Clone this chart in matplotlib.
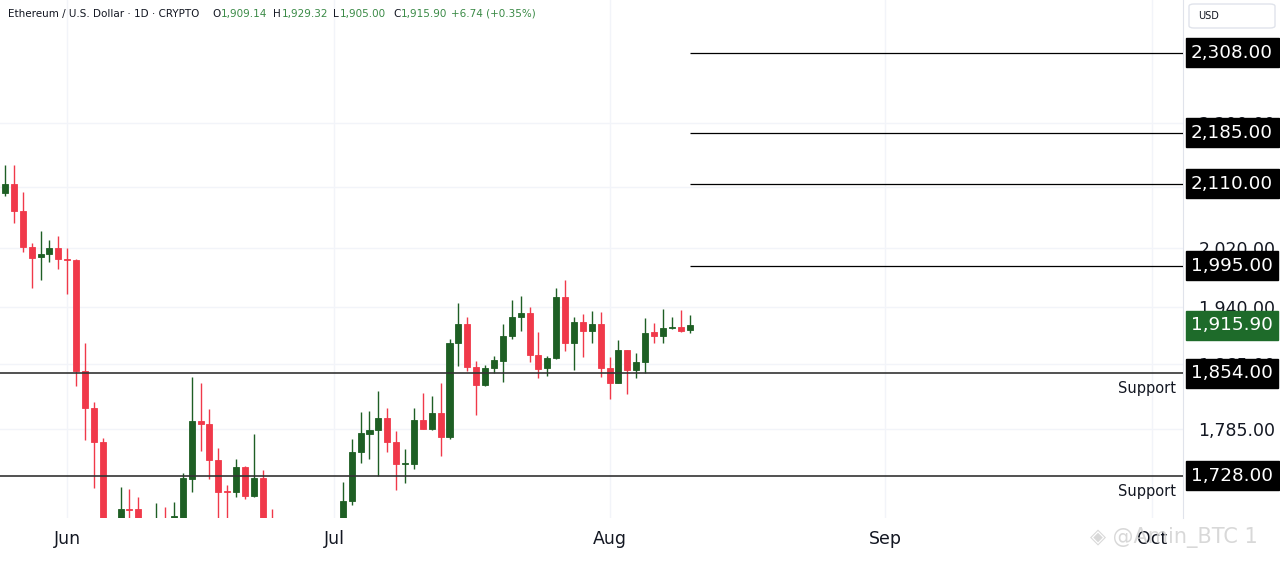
import datetime as dt
import matplotlib
matplotlib.use("Agg")
import matplotlib.pyplot as plt
import matplotlib.dates as mdates
from matplotlib.patches import FancyBboxPatch
import numpy as np

# daily candles (values below ~1679 are off-screen guesses)
fechas = ["2023-05-25", "2023-05-26", "2023-05-27", "2023-05-28", "2023-05-29", "2023-05-30",
          "2023-05-31", "2023-06-01", "2023-06-02", "2023-06-03", "2023-06-04", "2023-06-05",
          "2023-06-07", "2023-06-08", "2023-06-09", "2023-06-11", "2023-06-12", "2023-06-13",
          "2023-06-14", "2023-06-15", "2023-06-16", "2023-06-17", "2023-06-18", "2023-06-19",
          "2023-06-20", "2023-06-21", "2023-06-22", "2023-06-23", "2023-06-24",
          "2023-07-02", "2023-07-03", "2023-07-04", "2023-07-05", "2023-07-06", "2023-07-07",
          "2023-07-08", "2023-07-09", "2023-07-10", "2023-07-11", "2023-07-12", "2023-07-13",
          "2023-07-14", "2023-07-15", "2023-07-16", "2023-07-17", "2023-07-18", "2023-07-19",
          "2023-07-20", "2023-07-21", "2023-07-22", "2023-07-23", "2023-07-24", "2023-07-25",
          "2023-07-26", "2023-07-27", "2023-07-28", "2023-07-29", "2023-07-30", "2023-07-31",
          "2023-08-01", "2023-08-02", "2023-08-03", "2023-08-04", "2023-08-05", "2023-08-06",
          "2023-08-07", "2023-08-08", "2023-08-09", "2023-08-10"]
aperturas = [2097, 2110, 2071, 2021, 2007, 2011, 2020, 2004, 2003, 1856, 1810, 1768,
             1665, 1689, 1689, 1650, 1665, 1655, 1665, 1724, 1794, 1791, 1747, 1710,
             1709, 1739, 1704, 1726, 1668,
             1672, 1699, 1756, 1778, 1783, 1798, 1769, 1742, 1742, 1795, 1785, 1804,
             1775, 1892, 1917, 1862, 1839, 1860, 1870, 1902, 1927, 1932, 1877, 1860,
             1873, 1953, 1893, 1920, 1908, 1917, 1860, 1842, 1883, 1858, 1868, 1907,
             1901, 1912, 1914, 1909.14]
maximos = [2138, 2138, 2098, 2027, 2043, 2030, 2036, 2019, 2005, 1893, 1818, 1773,
           1715, 1713, 1703, 1696, 1692, 1698, 1731, 1849, 1841, 1809, 1761, 1717,
           1748, 1740, 1778, 1735, 1689,
           1721, 1772, 1805, 1806, 1831, 1810, 1782, 1760, 1810, 1829, 1825, 1842,
           1898, 1945, 1927, 1869, 1864, 1876, 1917, 1949, 1955, 1940, 1907, 1876,
           1965, 1976, 1926, 1930, 1934, 1933, 1874, 1896, 1884, 1880, 1925, 1918,
           1937, 1926, 1936, 1929.32]
minimos = [2093, 2055, 2014, 1965, 1976, 2000, 1991, 1957, 1838, 1771, 1714, 1630,
           1650, 1660, 1650, 1640, 1645, 1650, 1660, 1709, 1758, 1724, 1670, 1675,
           1703, 1701, 1703, 1655, 1640,
           1665, 1694, 1743, 1748, 1728, 1757, 1712, 1720, 1736, 1784, 1783, 1752,
           1772, 1863, 1857, 1801, 1838, 1854, 1843, 1898, 1908, 1868, 1848, 1850,
           1872, 1882, 1858, 1874, 1892, 1849, 1822, 1841, 1828, 1848, 1854, 1892,
           1892, 1911, 1907, 1905.00]
cierres = [2110, 2071, 2021, 2006, 2011, 2020, 2004, 2003, 1856, 1810, 1768, 1650,
           1689, 1688, 1665, 1665, 1655, 1681, 1725, 1794, 1791, 1747, 1709, 1709,
           1739, 1704, 1726, 1668, 1650,
           1699, 1756, 1779, 1783, 1798, 1769, 1742, 1743, 1795, 1785, 1804, 1775,
           1893, 1917, 1862, 1839, 1860, 1871, 1902, 1927, 1932, 1877, 1859, 1873,
           1953, 1893, 1920, 1908, 1917, 1860, 1842, 1883, 1858, 1868, 1906, 1901,
           1912, 1914, 1908, 1915.90]

# drawn levels
resistencias = [2308.00, 2185.00, 2110.00, 1995.00]
soportes = [1854.00, 1728.00]
ultimo = 1915.90
ticks_precio = [1785, 1865, 1940, 2020, 2200]
meses = ["2023-06-01", "2023-07-01", "2023-08-01", "2023-09-01", "2023-10-01"]

VERDE = "#1e5f24"
ROJO = "#f0394a"
TEXTO = "#131722"

def a_num(s):
    return mdates.date2num(dt.datetime.strptime(s, "%Y-%m-%d"))

x = np.array([a_num(f) for f in fechas])
o = np.array(aperturas, dtype=float)
h = np.array(maximos, dtype=float)
l = np.array(minimos, dtype=float)
c = np.array(cierres, dtype=float)
colores = np.where(c >= o, VERDE, ROJO)

fig = plt.figure(figsize=(12.8, 5.61), dpi=100)
ax = fig.add_axes([0, 43 / 561, 1183 / 1280, 518 / 561])
ax.set_yscale("log")

# grid
for t in ticks_precio + [2105]:
    ax.axhline(t, color="#f2f4f9", lw=1, zorder=0)
for m in meses:
    ax.axvline(a_num(m), color="#f2f4f9", lw=1, zorder=0)

# candles
ax.vlines(x, l, h, colors=colores, lw=1.0, zorder=2)
ax.bar(x, np.abs(c - o), bottom=np.minimum(o, c), width=0.68, color=colores,
       edgecolor=colores, linewidth=0.6, zorder=3)

x0 = a_num("2023-05-25")
ax.set_xlim(x0 - 0.56, x0 + 132.5)
ax.set_ylim(1679, 2393)

# levels
for r in resistencias:
    ax.hlines(r, x[-1], x0 + 132.5, colors="black", lw=0.9, zorder=4)
for s in soportes:
    ax.axhline(s, color="#333333", lw=1.2, zorder=4)
    ax.annotate("Support", xy=(1, s), xycoords=ax.get_yaxis_transform(),
                xytext=(-5, -6), textcoords="offset points", ha="right", va="top",
                fontsize=10.5, color=TEXTO, annotation_clip=False)

# axes
ax.xaxis.set_major_locator(mdates.MonthLocator())
ax.xaxis.set_major_formatter(mdates.DateFormatter("%b"))
ax.tick_params(axis="x", length=0, pad=9, labelsize=12.5, labelcolor=TEXTO)
ax.yaxis.tick_right()
ax.yaxis.set_minor_locator(matplotlib.ticker.NullLocator())
ax.set_yticks(ticks_precio)
ax.set_yticklabels([f"{t:,.2f}" for t in ticks_precio])
ax.tick_params(axis="y", length=0, pad=11, labelsize=12.5, labelcolor=TEXTO)
for lado in ["top", "left", "bottom"]:
    ax.spines[lado].set_visible(False)
ax.spines["right"].set_color("#e0e3eb")

# price tags on the right scale
for p in resistencias + soportes:
    ax.text(1.0068, p, f"{p:,.2f}", transform=ax.get_yaxis_transform(), ha="left",
            va="center", fontsize=13.2, color="white", zorder=10, clip_on=False,
            bbox=dict(boxstyle="square,pad=0.3", fc="black", ec="black"))
ax.text(1.0068, ultimo, f"{ultimo:,.2f}", transform=ax.get_yaxis_transform(), ha="left",
        va="center", fontsize=13.2, color="white", zorder=10, clip_on=False,
        bbox=dict(boxstyle="square,pad=0.3", fc="#1e6b2a", ec="#1e6b2a"))

# USD box
px = lambda xx, yy: (xx / 1280, 1 - yy / 561)
caja = FancyBboxPatch(px(1189, 28), 86 / 1280, 24 / 561, transform=fig.transFigure,
                      boxstyle="round,pad=0,rounding_size=0.004", fc="white",
                      ec="#e0e3eb", lw=1)
fig.patches.append(caja)
fig.text(*px(1198, 16), "USD", fontsize=7, color=TEXTO, va="center")

# header
fig.text(*px(8, 14), "Ethereum / U.S. Dollar · 1D · CRYPTO", fontsize=7.5,
         color=TEXTO, va="center")
partes = [(212, "O", TEXTO), (221, "1,909.14", "#3a8a46"), (273, "H", TEXTO),
          (282, "1,929.32", "#3a8a46"), (333, "L", TEXTO), (340, "1,905.00", "#3a8a46"),
          (393, "C", TEXTO), (401, "1,915.90", "#3a8a46"), (451, "+6.74 (+0.35%)", "#3a8a46")]
for xx, txt, col in partes:
    fig.text(*px(xx, 14), txt, fontsize=7.5, color=col, va="center")

# watermark
fig.text(*px(1090, 538), "◈ @Amin_BTC 1", fontsize=15, color="#cfcfcf",
         va="center", alpha=0.8, zorder=0)

fig.savefig("out.png", dpi=100, facecolor="white")
